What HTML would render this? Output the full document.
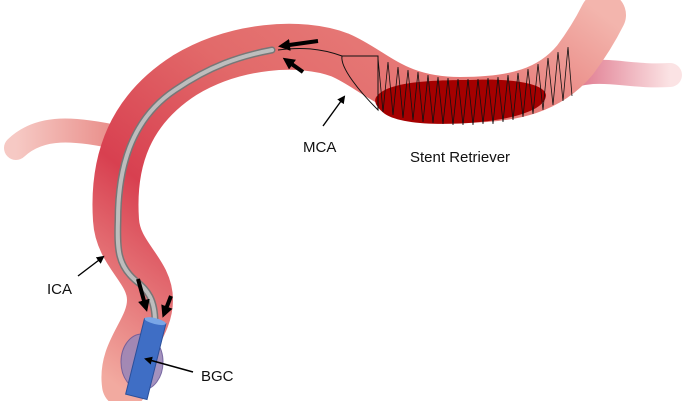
<!DOCTYPE html>
<html><head><meta charset="utf-8"><style>
html,body{margin:0;padding:0;background:#fff;width:685px;height:401px;overflow:hidden}
text{font-family:"Liberation Sans",sans-serif;font-size:15px;fill:#111}
</style></head><body>
<svg width="685" height="401" viewBox="0 0 685 401" xmlns="http://www.w3.org/2000/svg">
<defs>
<linearGradient id="lb" x1="0" y1="0" x2="1" y2="0"><stop offset="0" stop-color="#f6c9c4"/><stop offset="1" stop-color="#e88a86"/></linearGradient>
<linearGradient id="rb" x1="0" y1="0" x2="1" y2="0"><stop offset="0" stop-color="#d9607a"/><stop offset="1" stop-color="#fbe3e4"/></linearGradient>
<linearGradient id="main" x1="0" y1="1" x2="1" y2="0"><stop offset="0" stop-color="#f2aaa0"/><stop offset="0.3" stop-color="#d84050"/><stop offset="0.55" stop-color="#e26a6a"/><stop offset="0.8" stop-color="#e77d7a"/><stop offset="1" stop-color="#f3b5ad"/></linearGradient>
<marker id="ah" markerWidth="8" markerHeight="8" refX="6" refY="4" orient="auto" markerUnits="userSpaceOnUse"><path d="M0,0 L8,4 L0,8 Z" fill="#000"/></marker>
<marker id="ahb" markerWidth="12" markerHeight="12" refX="8" refY="6" orient="auto" markerUnits="userSpaceOnUse"><path d="M0,0 L12,6 L0,12 Z" fill="#000"/></marker>
</defs>
<path d="M16,148 C40,125 75,128 120,138" stroke="url(#lb)" stroke-width="24" fill="none" stroke-linecap="round"/>
<path d="M555,82 C600,62 620,78 670,75" stroke="url(#rb)" stroke-width="24" fill="none" stroke-linecap="round"/>
<path d="M125,385 C120,350 150,330 150,300 C150,270 118,255 116,220 C112,160 130,110 185,75 C235,45 300,40 340,55 C375,70 395,100 460,100 C515,100 550,90 575,60 C590,40 598,25 603,15" stroke="url(#main)" stroke-width="46" fill="none" stroke-linecap="round"/>
<path d="M378,95 C390,82 430,80 470,80 C520,78 545,85 546,95 C546,108 520,118 480,122 C440,126 400,124 385,114 C376,107 372,100 378,95 Z" fill="#a50000"/>
<path d="M378,58 L383,112 L388,62 L393,115 L398,67 L403,118 L408,70 L413,120 L418,72 L423,122 L428,75 L433,123 L438,77 L443,124 L448,78 L453,125 L458,79 L463,125 L468,79 L473,125 L478,79 L483,124 L488,78 L493,124 L498,77 L503,122 L508,75 L513,120 L518,73 L523,117 L528,69 L533,114 L538,64 L543,110 L548,58 L553,105 L558,52 L563,101 L568,47 L572,96" stroke="#111" stroke-width="0.8" fill="none"/>
<path d="M378,56 L342,56 C340,68 360,92 378,110 Z" fill="none" stroke="#111" stroke-width="1"/>
<path d="M342,56 C320,48 300,47 278,50" stroke="#111" stroke-width="1" fill="none"/>
<path d="M155,322 C155,300 148,290 135,280 C118,265 117,250 118,220 C118,170 130,120 175,90 C210,66 240,56 272,50" stroke="#777" stroke-width="7" fill="none" stroke-linecap="round"/>
<path d="M155,322 C155,300 148,290 135,280 C118,265 117,250 118,220 C118,170 130,120 175,90 C210,66 240,56 272,50" stroke="#bdbdbd" stroke-width="4" fill="none" stroke-linecap="round"/>
<ellipse cx="142" cy="362" rx="21" ry="28" fill="#9b87b8" stroke="#6b5a9a" stroke-width="1" opacity="0.9"/>
<g transform="rotate(14 146 358)"><rect x="135" y="320" width="22" height="78" fill="#3f6ec5" stroke="#2a4f9a" stroke-width="1"/><ellipse cx="146" cy="320" rx="11" ry="3" fill="#7aa6e6"/></g>
<line x1="318" y1="41" x2="282" y2="46" stroke="#000" stroke-width="4" marker-end="url(#ahb)"/>
<line x1="303" y1="72" x2="286" y2="60" stroke="#000" stroke-width="4" marker-end="url(#ahb)"/>
<line x1="138" y1="279" x2="146" y2="308" stroke="#000" stroke-width="4" marker-end="url(#ahb)"/>
<line x1="171" y1="296" x2="164" y2="314" stroke="#000" stroke-width="4" marker-end="url(#ahb)"/>
<line x1="323" y1="126" x2="344" y2="97" stroke="#000" stroke-width="1.4" marker-end="url(#ah)"/>
<line x1="78" y1="276" x2="103" y2="257" stroke="#000" stroke-width="1.4" marker-end="url(#ah)"/>
<line x1="193" y1="372" x2="146" y2="359" stroke="#000" stroke-width="1.6" marker-end="url(#ah)"/>
<text x="303" y="152">MCA</text>
<text x="410" y="162">Stent Retriever</text>
<text x="47" y="294">ICA</text>
<text x="201" y="381">BGC</text>
</svg>
</body></html>
